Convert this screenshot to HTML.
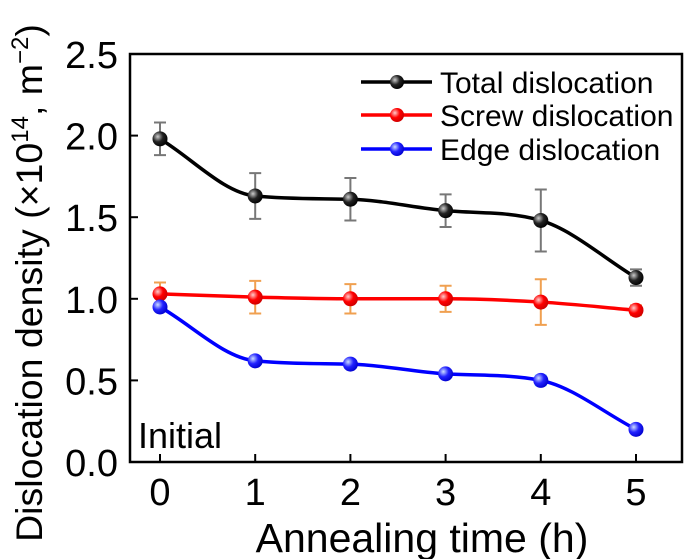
<!DOCTYPE html>
<html><head><meta charset="utf-8"><style>
body{margin:0;background:#fff}
svg{display:block;font-family:"Liberation Sans",Arial,sans-serif}
</style></head><body>
<svg id="chart" width="685" height="559" viewBox="0 0 685 559">
<defs>
<radialGradient id="gk" cx="0.35" cy="0.35" r="0.7"><stop offset="0" stop-color="#ccc"/><stop offset="0.5" stop-color="#222"/><stop offset="1" stop-color="#000"/></radialGradient>
<radialGradient id="gr" cx="0.35" cy="0.35" r="0.7"><stop offset="0" stop-color="#fcc"/><stop offset="0.5" stop-color="#f00"/><stop offset="1" stop-color="#c00"/></radialGradient>
<radialGradient id="gb" cx="0.35" cy="0.35" r="0.7"><stop offset="0" stop-color="#cdf"/><stop offset="0.5" stop-color="#22f"/><stop offset="1" stop-color="#00c"/></radialGradient>
</defs>
<g id="axes"></g>
<g id="series"></g>
</svg>
<script>
const times=[0,1,2,3,4,5];
const xTicks=["0","1","2","3","4","5"];
const yTicks=["0.0","0.5","1.0","1.5","2.0","2.5"];
const total=[1.98,1.63,1.61,1.54,1.48,1.13];
const totalErr=[0.10,0.14,0.13,0.10,0.19,0.05];
const screw=[1.03,1.01,1.00,1.00,0.98,0.93];
const screwErr=[0.07,0.10,0.09,0.08,0.14,0.03];
const edge=[0.95,0.62,0.60,0.54,0.50,0.20];
const edgeErr=[0.02,0.02,0.02,0.02,0.03,0.01];

const NS="http://www.w3.org/2000/svg";
const L=130,R=682,T=54,B=462;
const xs=v=>160+v*(636-160)/5;
const ys=v=>B-v*(B-T)/2.5;
function mk(tag,attrs,parent,text){const e=document.createElementNS(NS,tag);for(const k in attrs)e.setAttribute(k,attrs[k]);if(text!==undefined)e.textContent=text;parent.appendChild(e);return e;}
const ax=document.getElementById('axes'),sg=document.getElementById('series');
let fr=mk('rect',{x:L,y:T,width:R-L,height:B-T,fill:'none',stroke:'#000','stroke-width':2.5},ax);


times.forEach((t,i)=>{
  let tk=mk('line',{x1:xs(t),x2:xs(t),y1:B,y2:B-8,stroke:'#000','stroke-width':2},ax);
  
  
  let tl=mk('text',{x:xs(t),y:505,'font-size':38,'text-anchor':'middle'},ax,xTicks[i]);
  
  
});
yTicks.forEach((s,i)=>{
  const v=parseFloat(s);
  let tk=mk('line',{x1:L,x2:L+8,y1:ys(v),y2:ys(v),stroke:'#000','stroke-width':2},ax);
  
  
  let tl=mk('text',{x:L-12,y:ys(v)+14,'font-size':38,'text-anchor':'end'},ax,s);
  
  
});
let xt=mk('text',{x:(L+R)/2+16,y:552,'font-size':41,'text-anchor':'middle'},ax,'Annealing time (h)');


let yt=mk('text',{transform:'translate(42,283) rotate(-90)','font-size':37.5,'text-anchor':'middle'},ax);


yt.innerHTML='Dislocation density (×10<tspan dy="-14" font-size="24">14</tspan><tspan dy="14">, m</tspan><tspan dy="-14" font-size="24">−2</tspan><tspan dy="14">)</tspan>';
let ini=mk('text',{x:138,y:448,'font-size':36},ax,'Initial');



function path(vals){
  const p=vals.map((v,i)=>[xs(times[i]),ys(v)]);
  const n=p.length,d=[],m=[];
  for(let i=0;i<n-1;i++)d.push((p[i+1][1]-p[i][1])/(p[i+1][0]-p[i][0]));
  m[0]=d[0];m[n-1]=d[n-2];
  for(let i=1;i<n-1;i++)m[i]=(d[i-1]*d[i]<=0)?0:(d[i-1]+d[i])/2;
  for(let i=0;i<n-1;i++){
    if(d[i]===0){m[i]=0;m[i+1]=0;continue;}
    const a=m[i]/d[i],b=m[i+1]/d[i],s=a*a+b*b;
    if(s>9){const t=3/Math.sqrt(s);m[i]=t*a*d[i];m[i+1]=t*b*d[i];}
  }
  let s='M'+p[0][0]+','+p[0][1];
  for(let i=0;i<n-1;i++){
    const h=(p[i+1][0]-p[i][0])/3;
    s+=` C${p[i][0]+h},${p[i][1]+m[i]*h} ${p[i+1][0]-h},${p[i+1][1]-m[i+1]*h} ${p[i+1][0]},${p[i+1][1]}`;
  }
  return s;
}
function series(name,vals,errs,col,ecol,grad){
  const g=mk('g',{},sg);
  
  
  const ln=mk('path',{d:path(vals),fill:'none',stroke:col,'stroke-width':3.5},g);
  
  
  vals.forEach((v,i)=>{
    const x=xs(times[i]),y1=ys(v+errs[i]),y2=ys(v-errs[i]);
    const eb=mk('path',{d:`M${x},${y1}V${y2}M${x-6},${y1}H${x+6}M${x-6},${y2}H${x+6}`,stroke:ecol,'stroke-width':2,fill:'none'},g);
    
    
    const c=mk('circle',{cx:x,cy:ys(v),r:7.5,fill:`url(#${grad})`},g);
    
    
  });
}
series('total',total,totalErr,'#000','#777','gk');
series('screw',screw,screwErr,'#f00','#f0a050','gr');
series('edge',edge,edgeErr,'#00f','#8ef','gb');

const leg=[['Total dislocation','#000','gk'],['Screw dislocation','#f00','gr'],['Edge dislocation','#00f','gb']];
const legY=[82,115,149];
leg.forEach((e,i)=>{
  const g=mk('g',{},ax);
  
  
  mk('line',{x1:361,x2:432,y1:legY[i],y2:legY[i],stroke:e[1],'stroke-width':3.5},g);
  mk('circle',{cx:397,cy:legY[i],r:7,fill:`url(#${e[2]})`},g);
  mk('text',{x:440,y:legY[i]+11,'font-size':30},g,e[0]);
});
</script>
</body></html>
